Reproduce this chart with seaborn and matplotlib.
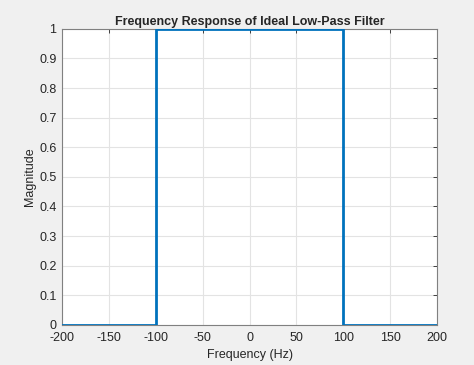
import matplotlib
matplotlib.use("Agg")
import numpy as np
import pandas as pd
import seaborn as sns
import matplotlib.pyplot as plt

# ideal low-pass response, cutoff at +/-100 Hz
freq = [-200, -100, -100, 100, 100, 200]
magnitude = [0, 0, 1, 1, 0, 0]
x_ticks = [-200, -150, -100, -50, 0, 50, 100, 150, 200]
y_ticks = [0, 0.1, 0.2, 0.3, 0.4, 0.5, 0.6, 0.7, 0.8, 0.9, 1]
y_tick_labels = ["0", "0.1", "0.2", "0.3", "0.4", "0.5", "0.6", "0.7", "0.8", "0.9", "1"]

sns.set_style("white")
plt.rcParams["font.family"] = ["Liberation Sans", "DejaVu Sans"]

data = pd.DataFrame({"Frequency": freq, "Magnitude": magnitude})

f = plt.figure(figsize=(4.74, 3.65), dpi=100, facecolor="#f0f0f0")
ax = f.add_axes([0.131, 0.110, 0.791, 0.811])
ax.set_facecolor("white")

sns.lineplot(data=data, x="Frequency", y="Magnitude", sort=False,
             estimator=None, color="#0072BD", linewidth=2, ax=ax, zorder=3)

ax.set_xlim(-200, 200)
ax.set_ylim(0, 1)
ax.set_xticks(x_ticks)
ax.set_xticklabels([str(t) for t in x_ticks])
ax.set_yticks(y_ticks)
ax.set_yticklabels(y_tick_labels)
ax.grid(True, color="#e3e3e3", linewidth=0.8)
ax.set_axisbelow(True)
ax.tick_params(direction="in", length=3, width=0.6, colors="#262626",
               labelsize=9, top=True, right=True)
ax.tick_params(axis="x", pad=5)
ax.tick_params(axis="y", pad=4)
for s in ax.spines.values():
    s.set_color("#808080")
    s.set_linewidth(0.8)

ax.set_xlabel("Frequency (Hz)", fontsize=9, color="#262626", labelpad=4)
ax.set_ylabel("Magnitude", fontsize=9, color="#262626", labelpad=2)
ax.set_title("Frequency Response of Ideal Low-Pass Filter", fontsize=9,
             fontweight="bold", pad=3)

f.savefig("out.png", dpi=100, facecolor=f.get_facecolor())
